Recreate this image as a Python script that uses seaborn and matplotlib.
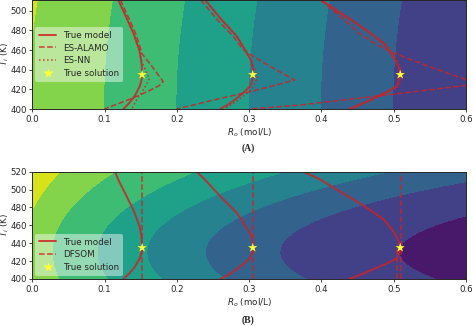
import numpy as np
import matplotlib
matplotlib.use("Agg")
import matplotlib.pyplot as plt
from matplotlib.lines import Line2D
import seaborn as sns

# ---------------- data ----------------
R_ticks = [0.0, 0.1, 0.2, 0.3, 0.4, 0.5, 0.6]
T_ticks_a = [400, 420, 440, 460, 480, 500]
T_ticks_b = [400, 420, 440, 460, 480, 500, 520]

# true optimal solutions (R_o, T_i)
sol_R = [0.152, 0.305, 0.509]
sol_T = [435, 435, 435]

# true-model constraint contours
true1_T = [400, 406, 413, 423, 430, 436, 442, 450, 460, 477, 495, 511, 520]
true1_R = [0.126, 0.134, 0.1414, 0.1486, 0.1513, 0.152, 0.1517, 0.1506, 0.148, 0.140, 0.129, 0.119, 0.1145]
true2_T = [400, 405, 411, 417, 423, 430, 436, 442, 450, 463, 474, 490, 511, 520]
true2_R = [0.26, 0.272, 0.283, 0.2925, 0.301, 0.3045, 0.3057, 0.305, 0.3025, 0.292, 0.283, 0.263, 0.239, 0.2274]
true3_T = [400, 406, 412.5, 418, 423, 430, 437, 443, 450, 458, 467, 478, 490, 500, 511, 520]
true3_R = [0.438, 0.458, 0.4765, 0.492, 0.504, 0.5075, 0.5087, 0.5065, 0.502, 0.495, 0.4856, 0.466, 0.442, 0.421, 0.399, 0.375]

# ES-ALAMO surrogate contours
alamo1_T = [511, 495, 477, 460, 457, 443, 428, 424, 418, 410, 404, 400]
alamo1_R = [0.122, 0.132, 0.143, 0.1505, 0.151, 0.166, 0.181, 0.176, 0.160, 0.135, 0.114, 0.100]
alamo2_T = [511, 490, 474, 463, 457, 443, 429.5, 424, 417.6, 409, 400]
alamo2_R = [0.233, 0.257, 0.278, 0.289, 0.298, 0.330, 0.363, 0.335, 0.301, 0.25, 0.2]
alamo3_T = [511, 495, 477, 465, 456.6, 443, 429.8, 426, 424, 416, 410, 404, 400]
alamo3_R = [0.399, 0.425, 0.452, 0.478, 0.5016, 0.55, 0.6, 0.62, 0.6, 0.51, 0.44, 0.37, 0.30]

# ES-NN surrogate contours
nn1_T = [511, 495, 477, 460, 450, 431, 421, 412.5, 400]
nn1_R = [0.119, 0.129, 0.140, 0.148, 0.1505, 0.162, 0.155, 0.1467, 0.1375]
nn2_T = [511, 490, 474, 463, 450, 432, 420, 410, 400]
nn2_R = [0.239, 0.263, 0.283, 0.292, 0.3025, 0.312, 0.303, 0.287, 0.266]
nn3_T = [511, 490, 467, 450, 436, 423, 412.5, 400]
nn3_R = [0.401, 0.444, 0.488, 0.505, 0.512, 0.507, 0.480, 0.443]

# DFSOM constraint contours (nearly vertical)
dfsom_R = [0.152, 0.305, 0.5095, 0.504]
dfsom_T_low = [400, 400, 400, 400]
dfsom_T_high = [520, 520, 520, 437]

# objective contour levels
top_levels = [-0.004, 0.1, 0.2, 0.3, 0.4, 0.5]
bottom_levels = [-0.0133, 0.029, 0.091, 0.160, 0.241, 0.344, 0.509]

# ---------------- style ----------------
sns.set_theme(style="ticks")
plt.rcParams.update({
    "font.family": ["DejaVu Sans"],
    "font.size": 6,
    "xtick.labelsize": 6.2,
    "ytick.labelsize": 6.2,
    "axes.labelsize": 6.3,
    "legend.fontsize": 6.3,
    "xtick.major.size": 2.5,
    "ytick.major.size": 2.5,
    "xtick.major.pad": 1.5,
    "ytick.major.pad": 1.5,
    "xtick.major.width": 0.6,
    "ytick.major.width": 0.6,
    "axes.linewidth": 0.7,
    "axes.edgecolor": "0.15",
})

cmap = sns.color_palette("viridis", as_cmap=True)
shades = [cmap((i + 0.5) / 8) for i in range(8)][::-1]
line_red = "#cc2228"
star_yellow = "#ffff33"

fig = plt.figure(figsize=(4.74, 3.26), dpi=100)
ax_a = fig.add_axes([0.0681, 0.6656, 0.915, 0.3344])
ax_b = fig.add_axes([0.0681, 0.1442, 0.915, 0.3291])

Rg = np.linspace(0.0, 0.6, 400)
Tg = np.linspace(400, 520, 300)
RR, TT = np.meshgrid(Rg, Tg)

# panel A objective field
F_a = RR - 1.0e-6 * (TT - 400) ** 2
ax_a.contourf(RR, TT, F_a, levels=[-1] + top_levels + [2], colors=shades[:7])

# panel B objective field
dT = TT - 430
F_b = (RR - 8e-6 * dT ** 2) / (1 + 1e-4 * dT ** 2)
ax_b.contourf(RR, TT, F_b, levels=[-1] + bottom_levels + [2], colors=shades[:8])


def curve(ax, r, t, ls, lw):
    sns.lineplot(x=r, y=t, sort=False, estimator=None, ax=ax, color=line_red,
                 linestyle=ls, linewidth=lw, alpha=0.85)


for r, t in [(true1_R, true1_T), (true2_R, true2_T), (true3_R, true3_T)]:
    curve(ax_a, r, t, "-", 1.4)
    curve(ax_b, r, t, "-", 1.4)
for r, t in [(alamo1_R, alamo1_T), (alamo2_R, alamo2_T), (alamo3_R, alamo3_T)]:
    curve(ax_a, r, t, "--", 1.1)
for r, t in [(nn1_R, nn1_T), (nn2_R, nn2_T), (nn3_R, nn3_T)]:
    curve(ax_a, r, t, ":", 1.1)
for r, lo, hi in zip(dfsom_R, dfsom_T_low, dfsom_T_high):
    curve(ax_b, [r, r], [lo, hi], "--", 1.1)

for ax in (ax_a, ax_b):
    sns.scatterplot(x=sol_R, y=sol_T, ax=ax, marker="*", s=50, color=star_yellow,
                    edgecolor="none", zorder=5)

h_true = Line2D([], [], color=line_red, alpha=0.85, lw=1.4, ls="-")
h_alamo = Line2D([], [], color=line_red, alpha=0.85, lw=1.1, ls="--")
h_nn = Line2D([], [], color=line_red, alpha=0.85, lw=1.1, ls=":")
h_sol = Line2D([], [], color=star_yellow, marker="*", ls="none", markersize=7,
               markeredgecolor="none")

leg_a = ax_a.legend([h_true, h_alamo, h_nn, h_sol],
                    ["True model", "ES-ALAMO", "ES-NN", "True solution"],
                    loc="center left", framealpha=0.45, edgecolor="none",
                    borderaxespad=0.35, handletextpad=0.8, labelspacing=0.45)
leg_b = ax_b.legend([h_true, h_alamo, h_sol],
                    ["True model", "DFSOM", "True solution"],
                    loc="lower left", framealpha=0.45, edgecolor="none",
                    borderaxespad=0.35, handletextpad=0.8, labelspacing=0.45)

ax_a.set_xlim(0, 0.6)
ax_a.set_ylim(400, 511)
ax_a.set_yticks(T_ticks_a)
ax_b.set_xlim(0, 0.6)
ax_b.set_ylim(400, 520)
ax_b.set_yticks(T_ticks_b)
for ax in (ax_a, ax_b):
    ax.set_xticks(R_ticks)
    ax.set_xticklabels([f"{v:.1f}" for v in R_ticks])
    ax.set_xlabel("$R_o$ (mol/L)", labelpad=2)
    ax.set_ylabel("$T_i$ (K)")
    ax.yaxis.set_label_coords(-0.049, 0.5)

fig.text(0.523, 0.546, "(A)", ha="center", va="center", fontsize=7,
         fontweight="bold", family="Liberation Serif")
fig.text(0.523, 0.018, "(B)", ha="center", va="center", fontsize=7,
         fontweight="bold", family="Liberation Serif")

fig.savefig("out.png", dpi=100)
